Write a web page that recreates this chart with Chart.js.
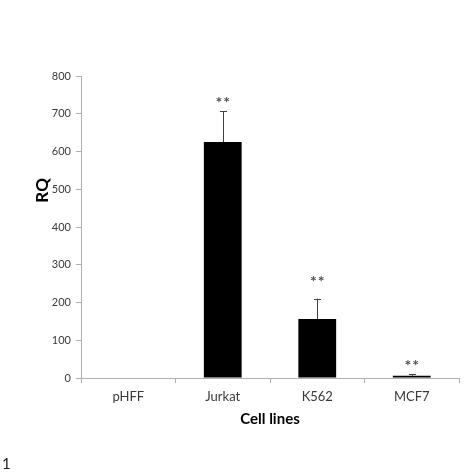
<!DOCTYPE html>
<html>
<head>
<meta charset="utf-8">
<script src="https://cdn.jsdelivr.net/npm/chart.js@4"></script>
<style>
html,body{margin:0;padding:0;background:#fff;}
#wrap{width:474px;height:474px;position:relative;}
</style>
</head>
<body>
<div id="wrap"><canvas id="c" width="474" height="474"></canvas></div>
<script>
const categories = ['pHFF', 'Jurkat', 'K562', 'MCF7'];
const rqValues = [0, 625, 156, 6];
const rqErrors = [0, 82, 54, 4];
const starLabels = ['', '**', '**', '**'];
const starValues = [null, 736, 262, 40];
const yTicks = [0, 100, 200, 300, 400, 500, 600, 700, 800];
const yTitle = 'RQ';
const xTitle = 'Cell lines';
const panelLabel = '1';

const FONT = 'Lato, "Open Sans", sans-serif';
const TXT = '#3a3a3a';
const AXIS = '#b0b0b0';

const extras = {
  id: 'extras',
  afterDatasetsDraw(chart) {
    const ctx = chart.ctx;
    const y = chart.scales.y;
    const meta = chart.getDatasetMeta(0);
    ctx.save();
    meta.data.forEach((el, i) => {
      const err = rqErrors[i];
      if (err > 0) {
        const top = y.getPixelForValue(rqValues[i] + err);
        const base = y.getPixelForValue(rqValues[i]);
        ctx.strokeStyle = '#404040';
        ctx.lineWidth = 1;
        ctx.beginPath();
        ctx.moveTo(Math.round(el.x) + 0.5, base);
        ctx.lineTo(Math.round(el.x) + 0.5, top);
        ctx.moveTo(Math.round(el.x) - 3, Math.round(top) + 0.5);
        ctx.lineTo(Math.round(el.x) + 4, Math.round(top) + 0.5);
        ctx.stroke();
      }
      if (starLabels[i] && starValues[i] !== null) {
        ctx.fillStyle = '#505050';
        ctx.font = 'bold 16px ' + FONT;
        ctx.letterSpacing = '1px';
        ctx.textAlign = 'center';
        ctx.textBaseline = 'middle';
        ctx.fillText(starLabels[i], el.x + 0.5, y.getPixelForValue(starValues[i]) + 3);
        ctx.letterSpacing = '0px';
      }
    });
    // Y title
    ctx.fillStyle = '#000';
    ctx.font = 'bold 17px ' + FONT;
    ctx.translate(43, y.getPixelForValue(497));
    ctx.rotate(-Math.PI / 2);
    ctx.textAlign = 'center';
    ctx.textBaseline = 'middle';
    ctx.fillText(yTitle, 0, 0);
    ctx.restore();
    ctx.save();
    ctx.fillStyle = '#222';
    ctx.font = '15px ' + FONT;
    ctx.textAlign = 'left';
    ctx.textBaseline = 'middle';
    ctx.fillText(panelLabel, 2, 464);
    ctx.restore();
  }
};

new Chart(document.getElementById('c'), {
  type: 'bar',
  data: {
    labels: categories,
    datasets: [{
      data: rqValues,
      backgroundColor: '#000',
      borderColor: '#000',
      borderWidth: 0,
      categoryPercentage: 1,
      barPercentage: 0.40
    }]
  },
  options: {
    responsive: false,
    animation: false,
    devicePixelRatio: 1,
    layout: { padding: { left: 0, right: 15, top: 76, bottom: 0 } },
    plugins: { legend: { display: false }, tooltip: { enabled: false } },
    scales: {
      x: {
        grid: { display: true, drawOnChartArea: false, drawTicks: true, tickLength: 5, color: AXIS, offset: true },
        border: { display: true, color: AXIS, width: 1 },
        ticks: { color: TXT, font: { family: FONT, size: 13 }, padding: 6 },
        title: { display: true, text: xTitle, color: '#000', font: { family: FONT, size: 15, weight: 'bold' }, padding: { top: 0, bottom: 46 } },
        afterFit(s) { s.height = 96; }
      },
      y: {
        min: 0, max: 800,
        afterBuildTicks(s) { s.ticks = yTicks.map(v => ({ value: v })); },
        grid: { display: true, drawOnChartArea: false, drawTicks: true, tickLength: 5, color: AXIS },
        border: { display: true, color: AXIS, width: 1 },
        ticks: { color: TXT, font: { family: FONT, size: 11 }, padding: 5 },
        afterFit(s) { s.width = 81; }
      }
    }
  },
  plugins: [extras]
});
</script>
</body>
</html>
